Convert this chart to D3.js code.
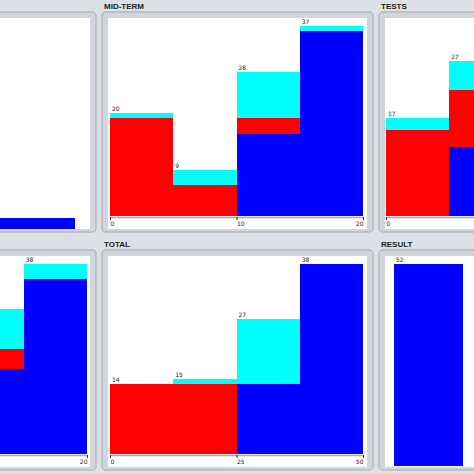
<!DOCTYPE html>
<html><head><meta charset="utf-8">
<script src="https://cdn.jsdelivr.net/npm/d3@7"></script>
<style>body{margin:0;background:#dde0e5;}svg{display:block;}</style>
</head><body>
<svg id="c" width="474" height="474"></svg>
<script>
// colours of the stacks: blue, red, cyan
var stackColors = ["#0000ff", "#ff0000", "#00ffff"];

// panel titles
var titles = ["", "MID-TERM", "TESTS", "", "TOTAL", "RESULT"];

// bins (start, end) in axis units
var midBins = [[0, 5], [5, 10], [10, 15], [15, 20]];
var midBlue = [0, 0, 16, 36];
var midRed = [19, 6, 3, 0];
var midCyan = [1, 3, 9, 1];
var midTicks = [0, 10, 20];

var testBins = [[0, 5], [5, 10]];
var testBlue = [0, 12];
var testRed = [15, 10];
var testCyan = [2, 5];

var leftBotBins = [[10, 15], [15, 20]];
var leftBotBlue = [17, 35];
var leftBotRed = [4, 0];
var leftBotCyan = [8, 3];
var leftBotTicks = [20];

var totalBins = [[0, 12.5], [12.5, 25], [25, 37.5], [37.5, 50]];
var totalBlue = [0, 0, 14, 38];
var totalRed = [14, 14, 0, 0];
var totalCyan = [0, 1, 13, 0];
var totalTicks = [0, 25, 50];

var leftTopBins = [[0, 1]];
var leftTopBlue = [2];

var resultBins = [[0, 1]];
var resultBlue = [52];

var svg = d3.select("#c");

function panel(o){
	// frame
	svg.append("rect")
		.attr("x", o.fx).attr("y", o.fy)
		.attr("width", o.fw).attr("height", o.fh)
		.attr("rx", 4)
		.attr("fill", "#d2d6dc")
		.attr("stroke", "#b4b8c0").attr("stroke-width", 1.5);
	svg.append("rect")
		.attr("x", o.px).attr("y", o.py)
		.attr("width", o.pw).attr("height", o.ph)
		.attr("fill", "#ffffff");
	if(o.title){
		svg.append("text")
			.attr("x", o.fx + 2).attr("y", o.fy - 3)
			.attr("font-family", "Liberation Sans, Arial, sans-serif")
			.attr("font-size", 8).attr("font-weight", "bold")
			.attr("fill", "#222")
			.text(o.title);
	}

	var x = d3.scaleLinear().domain(o.xDomain).range(o.xRange);
	var y = d3.scaleLinear().domain([0, o.yMax]).range([o.base, o.base - o.yPx]);

	var g = svg.append("g").attr("shape-rendering", "crispEdges");
	o.bins.forEach(function(b, i){
		var acc = 0;
		o.series.forEach(function(s, k){
			var v = s[i];
			if(!v) return;
			g.append("rect")
				.attr("x", x(b[0])).attr("width", x(b[1]) - x(b[0]))
				.attr("y", y(acc + v)).attr("height", y(acc) - y(acc + v))
				.attr("fill", stackColors[k]);
			acc += v;
		});
		if(o.labels && x(b[0]) >= 0){
			svg.append("text")
				.attr("x", x(b[0]) + 2).attr("y", y(acc) - 2)
				.attr("font-family", "DejaVu Sans, sans-serif")
				.attr("font-size", 6).attr("fill", "#222")
				.text(acc);
		}
	});

	if(o.ticks){
		var axis = d3.axisBottom(x).tickValues(o.ticks).tickSize(3).tickSizeOuter(0);
		var ag = svg.append("g")
			.attr("transform", "translate(0," + (o.base + 1) + ")")
			.call(axis);
		ag.select(".domain").attr("stroke", "#a8a8c0").attr("stroke-width", 1.5);
		ag.selectAll(".tick line").attr("stroke", "#333");
		ag.selectAll(".tick text")
			.attr("font-family", "DejaVu Sans, sans-serif")
			.attr("font-size", 6).attr("fill", "#222")
			.attr("text-anchor", function(d){ return d === o.xDomain[1] ? "end" : "start"; })
			.attr("y", 5);
	}
}

// top row
panel({fx: -10, fy: 12, fw: 106, fh: 220, px: -4, py: 18, pw: 94, ph: 211,
	xDomain: [0, 1], xRange: [-4, 75], yMax: 2, yPx: 11, base: 229,
	bins: leftTopBins, series: [leftTopBlue], labels: false});
panel({fx: 102, fy: 12, fw: 271, fh: 220, px: 108, py: 18, pw: 259, ph: 211,
	title: titles[1], xDomain: [0, 20], xRange: [110, 363], yMax: 37, yPx: 190, base: 216,
	bins: midBins, series: [midBlue, midRed, midCyan], labels: true, ticks: midTicks});
panel({fx: 379, fy: 12, fw: 110, fh: 220, px: 385, py: 18, pw: 100, ph: 211,
	title: titles[2], xDomain: [0, 20], xRange: [386, 639], yMax: 27, yPx: 155, base: 216,
	bins: testBins, series: [testBlue, testRed, testCyan], labels: true, ticks: [0]});

// bottom row
panel({fx: -10, fy: 250, fw: 106, fh: 220, px: -4, py: 256, pw: 94, ph: 211,
	xDomain: [0, 20], xRange: [-166, 87], yMax: 38, yPx: 190, base: 454,
	bins: leftBotBins, series: [leftBotBlue, leftBotRed, leftBotCyan], labels: true, ticks: leftBotTicks});
panel({fx: 102, fy: 250, fw: 271, fh: 220, px: 108, py: 256, pw: 259, ph: 211,
	title: titles[4], xDomain: [0, 50], xRange: [110, 363], yMax: 38, yPx: 190, base: 454,
	bins: totalBins, series: [totalBlue, totalRed, totalCyan], labels: true, ticks: totalTicks});
panel({fx: 379, fy: 250, fw: 110, fh: 220, px: 385, py: 256, pw: 100, ph: 211,
	title: titles[5], xDomain: [0, 1], xRange: [394, 463], yMax: 52, yPx: 202, base: 466,
	bins: resultBins, series: [resultBlue], labels: true});
</script>
</body></html>
